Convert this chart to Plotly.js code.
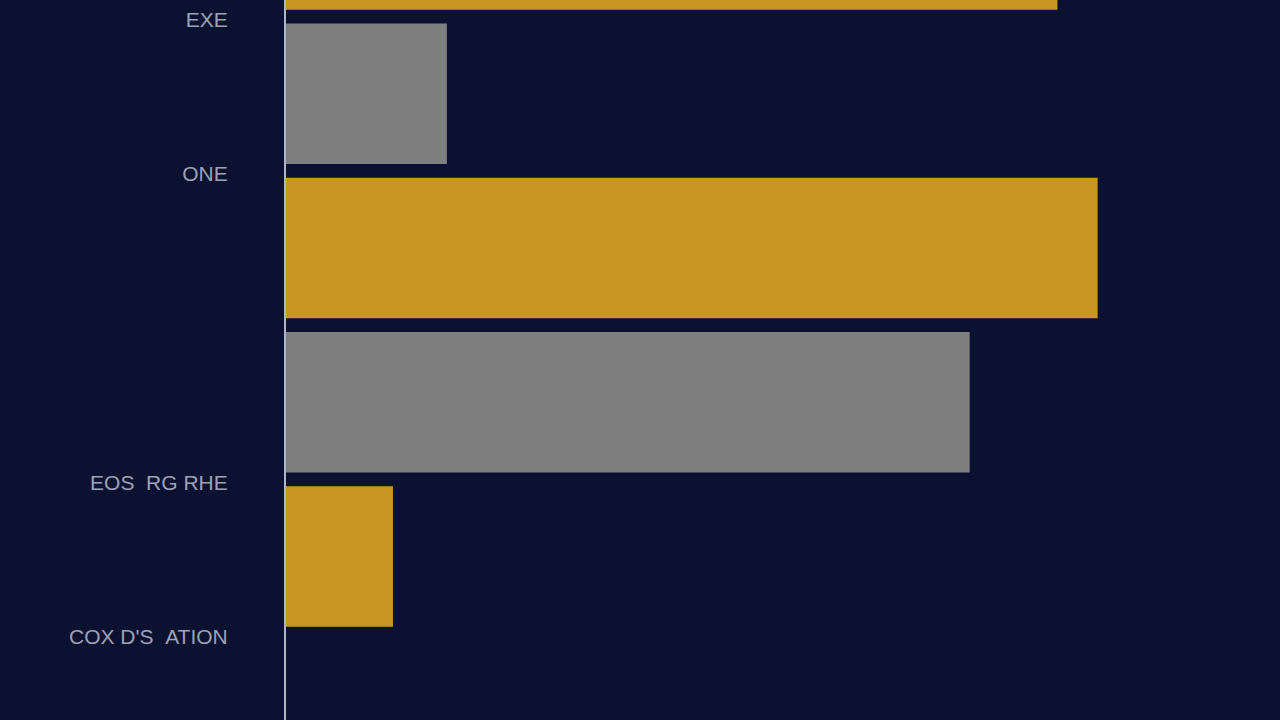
<!DOCTYPE html>
<html>
<head>
<meta charset="utf-8">
<script src="https://cdn.plot.ly/plotly-3.0.1.min.js"></script>
<style>
  html, body { margin: 0; padding: 0; background: #0b1130; }
  #graph { width: 1280px; height: 720px; }
</style>
</head>
<body>
<div id="graph"></div>
<script>
// tick labels sit between the bar rows (as in the picture)
var tickLabels = ["EXE", "ONE", "", "EOS\u00a0\u00a0RG RHE", "COX D'S\u00a0\u00a0ATION"];

// gold series, rows 0, 2, 4 (top to bottom)
var goldRows = [0, 2, 4];
var goldValues = [84.4, 88.8, 11.7];

// gray series, rows 1, 3
var grayRows = [1, 3];
var grayValues = [17.6, 74.8];

function plot(){
    var gold = {
        x: goldValues,
        y: goldRows,
        type: 'bar',
        orientation: 'h',
        width: 0.91,
        marker: {color: '#c9961f'},
        hoverinfo: 'x',
        name: 'gold'
    };

    var gray = {
        x: grayValues,
        y: grayRows,
        type: 'bar',
        orientation: 'h',
        width: 0.91,
        marker: {color: '#7f7f80'},
        hoverinfo: 'x',
        name: 'gray'
    };

    var tickVals = tickLabels.map(function(t, i){ return i + 0.52; });

    var layout = {
        width: 1280,
        height: 720,
        margin: {l: 286, r: 80, t: 0, b: 0},
        paper_bgcolor: '#0b1130',
        plot_bgcolor: '#0b1130',
        showlegend: false,
        barmode: 'overlay',
        font: {family: 'Liberation Sans, Arial, sans-serif', color: '#9ea2b4'},
        xaxis: {
            range: [0, 100],
            showgrid: false,
            zeroline: false,
            showticklabels: false,
            showline: false
        },
        yaxis: {
            range: [5.06, 0.392],
            tickvals: tickVals,
            ticktext: tickLabels,
            ticks: '',
            ticklabelstandoff: 52,
            tickfont: {size: 21, color: '#9ea2b4'},
            showgrid: false,
            zeroline: false,
            showline: true,
            linecolor: '#b0b4c8',
            linewidth: 2
        }
    };

    Plotly.newPlot('graph', [gold, gray], layout, {displayModeBar: false, staticPlot: true});
}

plot();
</script>
</body>
</html>
